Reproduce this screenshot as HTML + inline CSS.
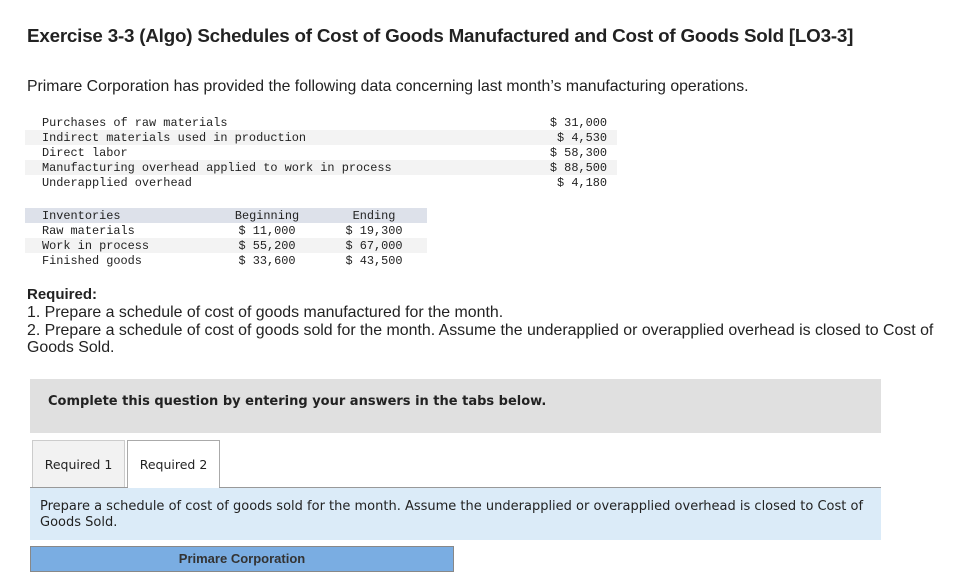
<!DOCTYPE html>
<html><head><meta charset="utf-8"><style>
body{margin:0;width:979px;height:573px;background:#fff;position:relative;overflow:hidden;font-family:"Liberation Sans",sans-serif;color:#222}
.a{position:absolute;white-space:nowrap}
.m{font-family:"Liberation Mono","DejaVu Sans Mono",monospace;font-size:11.9px;color:#222}
.v{font-family:"DejaVu Sans","Liberation Sans",sans-serif}
</style></head><body>
<div class="a" style="left:27px;top:25px;font-size:18.8px;font-weight:bold;letter-spacing:-0.2px">Exercise 3-3 (Algo) Schedules of Cost of Goods Manufactured and Cost of Goods Sold [LO3-3]</div>
<div class="a" style="left:27px;top:78px;font-size:15.8px">Primare Corporation has provided the following data concerning last month’s manufacturing operations.</div>

<div>
<div class="a" style="left:25px;top:130px;width:592px;height:15px;background:#f3f3f3"></div>
<div class="a" style="left:25px;top:160px;width:592px;height:15px;background:#f3f3f3"></div>
<div class="a m" style="left:42px;top:116px;line-height:15px">Purchases of raw materials<br>Indirect materials used in production<br>Direct labor<br>Manufacturing overhead applied to work in process<br>Underapplied overhead</div>
<div class="a m" style="left:500px;width:107px;top:116px;line-height:15px;text-align:right">$ 31,000<br>$ 4,530<br>$ 58,300<br>$ 88,500<br>$ 4,180</div>
</div>

<div>
<div class="a" style="left:25px;top:208px;width:402px;height:15px;background:#dde1ea"></div>
<div class="a" style="left:25px;top:238px;width:402px;height:15px;background:#f3f3f3"></div>
<div class="a m" style="left:42px;top:209px;line-height:15px">Inventories<br>Raw materials<br>Work in process<br>Finished goods</div>
<div class="a m" style="left:228px;width:78px;top:209px;line-height:15px;text-align:center">Beginning<br>$ 11,000<br>$ 55,200<br>$ 33,600</div>
<div class="a m" style="left:335px;width:78px;top:209px;line-height:15px;text-align:center">Ending<br>$ 19,300<br>$ 67,000<br>$ 43,500</div>
</div>

<div class="a" style="left:27px;top:286px;font-size:15px;font-weight:bold">Required:</div>
<div class="a" style="left:27px;top:304px;font-size:15.9px;line-height:17.5px">1. Prepare a schedule of cost of goods manufactured for the month.<br>2. Prepare a schedule of cost of goods sold for the month. Assume the underapplied or overapplied overhead is closed to Cost of<br>Goods Sold.</div>

<div class="a" style="left:30px;top:379px;width:851px;height:54px;background:#e0e0e0"></div>
<div class="a v" style="left:48px;top:394px;font-size:13px;font-weight:bold">Complete this question by entering your answers in the tabs below.</div>

<div class="a v" style="left:32px;top:440px;width:91px;height:47px;background:#f2f2f2;border:1px solid #ccc;border-bottom:none;font-size:12.5px;line-height:48px;text-align:center">Required 1</div>
<div class="a v" style="left:127px;top:440px;width:91px;height:48px;background:#fff;border:1px solid #aaa;border-bottom:none;font-size:12.5px;line-height:48px;text-align:center">Required 2</div>
<div class="a" style="left:30px;top:487px;width:851px;height:1px;background:#999"></div>
<div class="a" style="left:128px;top:487px;width:91px;height:1px;background:#fff"></div>

<div class="a" style="left:30px;top:488px;width:851px;height:52px;background:#dbebf8"></div>
<div class="a v" style="left:40px;top:499px;font-size:13px;line-height:16px;color:#222">Prepare a schedule of cost of goods sold for the month. Assume the underapplied or overapplied overhead is closed to Cost of<br>Goods Sold.</div>

<div class="a" style="left:30px;top:546px;width:422px;height:24px;background:#7aade2;border:1px solid #888;font-size:13px;font-weight:bold;line-height:24px;text-align:center;color:#333">Primare Corporation</div>
</body></html>
